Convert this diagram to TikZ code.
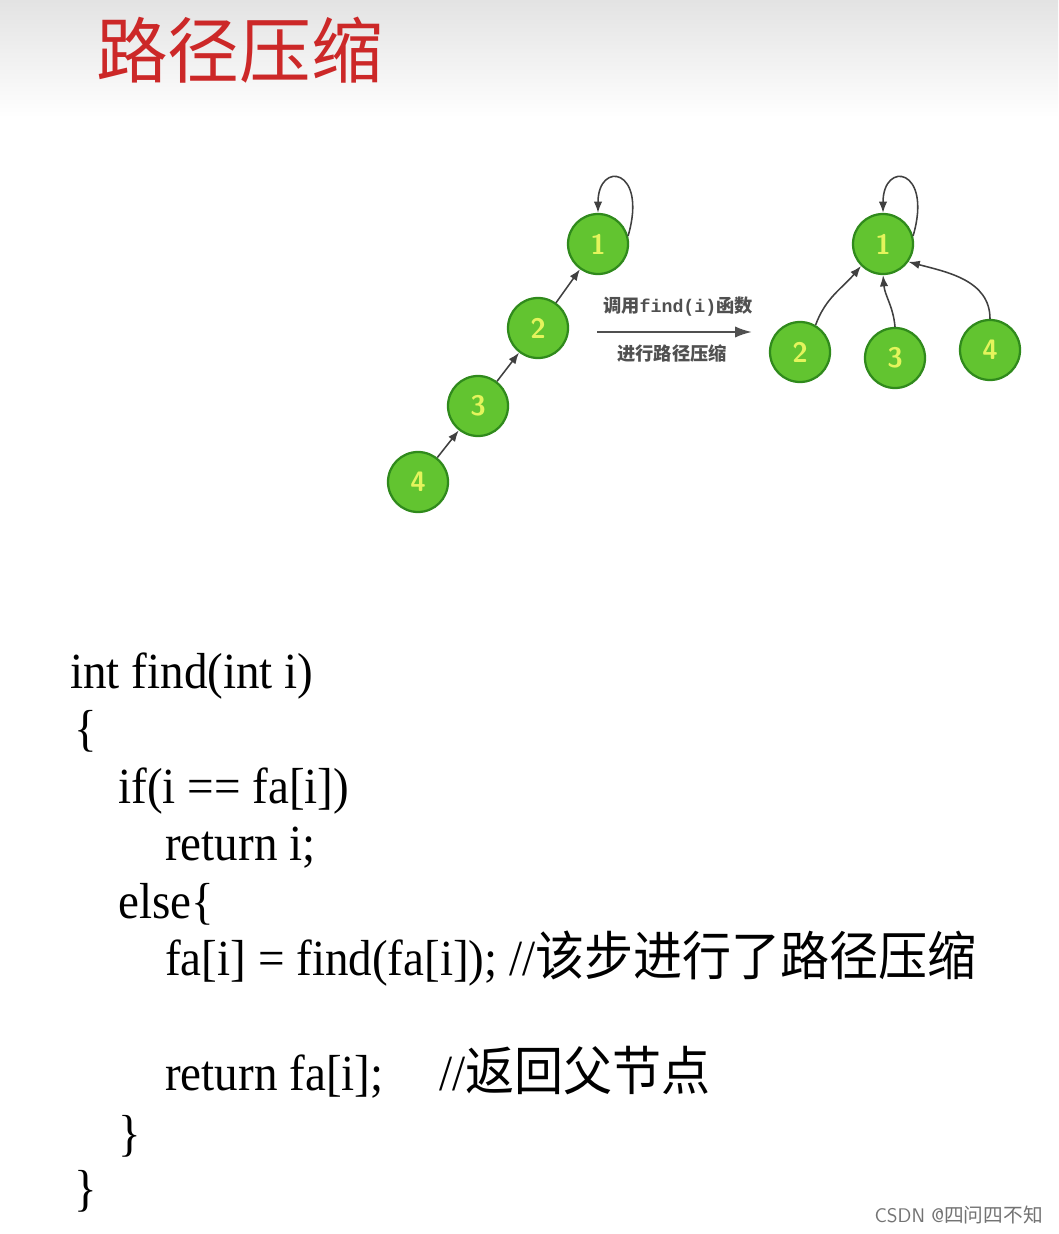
\documentclass[tikz,border=0pt]{standalone}
\usepackage{fontspec}
\setmainfont{Liberation Serif}
\newfontfamily\cjk{Noto Sans CJK SC}
\newfontfamily\monofnt{Liberation Mono}
\usetikzlibrary{arrows.meta}
\definecolor{vfill}{RGB}{98,196,48}
\definecolor{vline}{RGB}{48,138,28}
\definecolor{vtext}{RGB}{228,244,92}
\definecolor{titlered}{RGB}{204,40,40}
\definecolor{arrgray}{RGB}{80,80,80}
\tikzset{
  vert/.style={circle,draw=vline,line width=1.6pt,fill=vfill,minimum size=1.5cm,inner sep=0pt,
    text=vtext,font=\sffamily\bfseries\fontsize{20}{22}\selectfont},
  edge/.style={draw=black!75,line width=1.1pt,-{Latex[length=8pt,width=6pt]}},
  lbl/.style={text=arrgray,font=\cjk\bfseries\fontsize{13}{15}\selectfont,inner sep=0pt},
  codeline/.style={anchor=base west,inner sep=0pt,xscale=0.93,transform shape,
    font=\fontsize{36}{40}\selectfont}
}
\newcommand{\cmt}[1]{{\cjk\fontsize{37.5}{40}\selectfont #1}}
\begin{document}
\begin{tikzpicture}[x=0.025cm,y=-0.025cm]
\useasboundingbox (0,0) rectangle (1058,1234);
\shade[top color=black!11,bottom color=white] (0,0) rectangle (1058,118);
\node[anchor=west,inner sep=0pt,text=titlered,font=\cjk\fontsize{51}{56}\selectfont] (title) at (96,50) {路径压缩};

\foreach \n/\x/\y in {1/598/244, 2/538/328, 3/478/406, 4/418/482} {
	\node[vert] (a\n) at (\x,\y) {\n};
}
\foreach \n/\x/\y in {1/883/244, 2/800/352, 3/895/358, 4/990/350} {
	\node[vert] (b\n) at (\x,\y) {\n};
}
\foreach \i/\j in {2/1, 3/2, 4/3} {
	\draw[edge] (a\i) -- (a\j);
}
\draw[edge] (a1.15) .. controls (648,168) and (598,160) .. (a1.north);
\draw[edge] (b1.15) .. controls (933,168) and (883,160) .. (b1.north);
\draw[edge] (b2.60) to[out=70,in=-130] (b1.-135);
\draw[edge] (b3.north) to[out=95,in=-85] (b1.south);
\draw[edge] (b4.north) to[out=90,in=-15] (b1.-35);

\coordinate (s) at (597,332);
\coordinate (e) at (752,332);
\draw[arrgray,line width=1.5pt,-{Latex[length=12pt,width=8pt]}] (s) -- (e);
\node[lbl] (up) at (678,307) {调用{\monofnt\bfseries find(i)}函数};
\node[lbl] (dn) at (672,354) {进行路径压缩};

\node[codeline] (c1) at (70,688) {int find(int i)};
\node[codeline] (c2) at (74,745) {\{};
\node[codeline] (c3) at (118,803) {if(i == fa[i])};
\node[codeline] (c4) at (165,860) {return i;};
\node[codeline] (c5) at (118,918) {else\{};
\node[codeline] (c6) at (165,975) {fa[i] = find(fa[i]); //\cmt{该步进行了路径压缩}};
\node[codeline] (c7) at (165,1090) {return fa[i];\hspace{1.5cm}//\cmt{返回父节点}};
\node[codeline] (c8) at (118,1150) {\}};
\node[codeline] (c9) at (74,1205) {\}};

\node[anchor=east,inner sep=0pt,text=black!55,font=\sffamily\fontsize{14}{16}\selectfont] (mark) at (1043,1215) {CSDN @{\cjk 四问四不知}};
\end{tikzpicture}
\end{document}
